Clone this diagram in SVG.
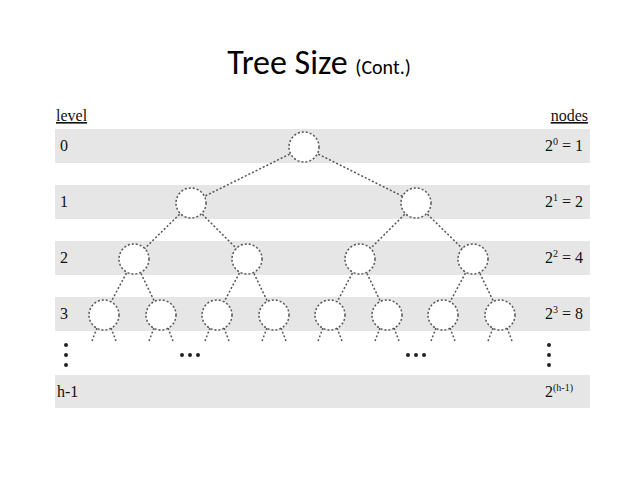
<svg xmlns="http://www.w3.org/2000/svg" width="638" height="478" viewBox="0 0 638 478">
<style>
.band{fill:#e6e6e6}
.t{font-family:"Liberation Serif",serif;font-size:16px;fill:#111}
.n{fill:#fff;stroke:#555;stroke-width:1.5;stroke-dasharray:2 2}
.e{stroke:#555;stroke-width:1.5;stroke-dasharray:2 2;fill:none}
.d{fill:#222}
</style>
<rect width="638" height="478" fill="#fff"/>
<text x="319" y="74" text-anchor="middle" font-family="Calibri,'Carlito','Open Sans',sans-serif" fill="#000"><tspan font-size="34">Tree Size </tspan><tspan font-size="20">(Cont.)</tspan></text>
<rect class="band" x="55" y="129" width="535" height="34"/>
<rect class="band" x="55" y="185" width="535" height="34"/>
<rect class="band" x="55" y="241" width="535" height="34"/>
<rect class="band" x="55" y="297" width="535" height="34"/>
<rect class="band" x="55" y="375" width="535" height="33"/>
<text class="t" x="56" y="121" text-decoration="underline">level</text>
<text class="t" x="588" y="121" text-anchor="end" text-decoration="underline">nodes</text>
<text class="t" x="60" y="151">0</text>
<text class="t" x="60" y="207">1</text>
<text class="t" x="60" y="263">2</text>
<text class="t" x="60" y="319">3</text>
<text class="t" x="57" y="397">h-1</text>
<text class="t" x="545" y="151">2<tspan font-size="10" dy="-6">0</tspan><tspan dy="6"> = 1</tspan></text>
<text class="t" x="545" y="207">2<tspan font-size="10" dy="-6">1</tspan><tspan dy="6"> = 2</tspan></text>
<text class="t" x="545" y="263">2<tspan font-size="10" dy="-6">2</tspan><tspan dy="6"> = 4</tspan></text>
<text class="t" x="545" y="319">2<tspan font-size="10" dy="-6">3</tspan><tspan dy="6"> = 8</tspan></text>
<text class="t" x="545" y="397">2<tspan font-size="10" dy="-6">(h-1)</tspan></text>
<g id="ellipsis">
<circle class="d" cx="66" cy="345" r="2"/><circle class="d" cx="66" cy="355" r="2"/><circle class="d" cx="66" cy="365" r="2"/>
<circle class="d" cx="549" cy="345" r="2"/><circle class="d" cx="549" cy="355" r="2"/><circle class="d" cx="549" cy="365" r="2"/>
<circle class="d" cx="182" cy="355" r="2"/><circle class="d" cx="190" cy="355" r="2"/><circle class="d" cx="198" cy="355" r="2"/>
<circle class="d" cx="408" cy="355" r="2"/><circle class="d" cx="416" cy="355" r="2"/><circle class="d" cx="424" cy="355" r="2"/>
</g>
<g id="connectors">
<path class="e" d="M304 147L191 203M304 147L416 203M191 203L134 259M191 203L247 259M416 203L360 259M416 203L473 259M134 259L104 315M134 259L161 315M247 259L217 315M247 259L274 315M360 259L330 315M360 259L387 315M473 259L443 315M473 259L500 315"/>
<path class="e" d="M97 328l-5 13M111 328l5 13M154 328l-5 13M168 328l5 13M210 328l-5 13M224 328l5 13M267 328l-5 13M281 328l5 13M323 328l-5 13M337 328l5 13M380 328l-5 13M394 328l5 13M436 328l-5 13M450 328l5 13M493 328l-5 13M507 328l5 13"/>
</g>
<g id="n0"><circle class="n" cx="304" cy="147" r="15"/></g>
<g id="n1"><circle class="n" cx="191" cy="203" r="15"/></g>
<g id="n2"><circle class="n" cx="416" cy="203" r="15"/></g>
<g id="n3"><circle class="n" cx="134" cy="259" r="15"/></g>
<g id="n4"><circle class="n" cx="247" cy="259" r="15"/></g>
<g id="n5"><circle class="n" cx="360" cy="259" r="15"/></g>
<g id="n6"><circle class="n" cx="473" cy="259" r="15"/></g>
<g id="n7"><circle class="n" cx="104" cy="315" r="15"/></g>
<g id="n8"><circle class="n" cx="161" cy="315" r="15"/></g>
<g id="n9"><circle class="n" cx="217" cy="315" r="15"/></g>
<g id="n10"><circle class="n" cx="274" cy="315" r="15"/></g>
<g id="n11"><circle class="n" cx="330" cy="315" r="15"/></g>
<g id="n12"><circle class="n" cx="387" cy="315" r="15"/></g>
<g id="n13"><circle class="n" cx="443" cy="315" r="15"/></g>
<g id="n14"><circle class="n" cx="500" cy="315" r="15"/></g>
</svg>
